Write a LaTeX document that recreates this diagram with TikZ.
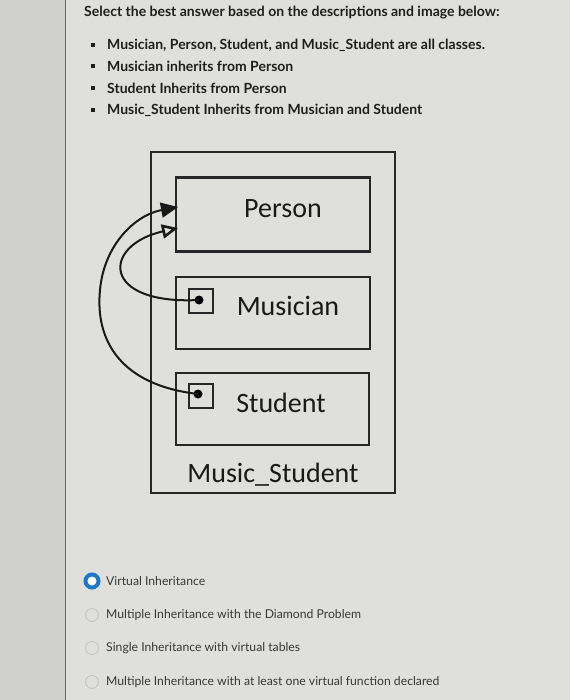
\documentclass[tikz,border=0pt]{standalone}
\usepackage{fontspec}
\setmainfont{Lato}
\newfontfamily\diagfont{Carlito}
\usetikzlibrary{arrows.meta,calc}
\definecolor{pagebg}{HTML}{DFDFDC}
\definecolor{stripbg}{HTML}{CFCFCB}
\definecolor{txt}{HTML}{1E1E1E}
\definecolor{opttxt}{HTML}{383838}
\definecolor{radioblue}{HTML}{1E78C8}
\definecolor{radiogray}{HTML}{C4C4C2}
\tikzset{
  box/.style={draw=black!85, line width=2.1pt, minimum width=194pt, minimum height=74pt, inner sep=0pt},
  sq/.style={draw=black!85, line width=2pt, minimum size=24pt, inner sep=0pt},
  dlabel/.style={font=\diagfont\fontsize{28}{30}\selectfont, text=black!90, inner sep=0pt},
  head/.style={font=\bfseries\fontsize{14}{16}\selectfont, text=txt, anchor=west, inner sep=0pt},
  bul/.style={font=\bfseries\fontsize{14}{16}\selectfont, text=txt, anchor=west, inner sep=0pt},
  opt/.style={font=\fontsize{12.2}{14}\selectfont, text=opttxt, anchor=west, inner sep=0pt},
  bulletsq/.style={fill=txt, minimum size=4pt, inner sep=0pt},
  link/.style={draw=black!90, line width=2pt, -{Triangle[open, length=16pt, width=14pt, line width=2.6pt]}},
  linkf/.style={draw=black!90, line width=2pt, -{Triangle[length=17pt, width=15pt]}},
  dot/.style={circle, fill=black, minimum size=9pt, inner sep=0pt},
  radiooff/.style={circle, draw=radiogray, line width=0.9pt, minimum size=13pt, inner sep=0pt},
  radioon/.style={circle, draw=radioblue, fill=white, line width=4pt, minimum size=13pt, inner sep=0pt}
}
\begin{document}
\begin{tikzpicture}[x=1pt, y=-1pt]
\useasboundingbox (0,0) rectangle (570,700);
\fill[pagebg] (0,0) rectangle (570,700);
\fill[stripbg] (0,0) rectangle (65,700);
\draw[gray!80!black, line width=0.8pt] (65,0) -- (65,700);

% heading and bullets
\node[head] (h) at (84,13) {Select the best answer based on the descriptions and image below:};
\node[bulletsq] (b1) at (93,45) {};
\node[bul] (t1) at (107,45) {Musician, Person, Student, and Music\_Student are all classes.};
\node[bulletsq] (b2) at (93,66) {};
\node[bul] (t2) at (107,66) {Musician inherits from Person};
\node[bulletsq] (b3) at (93,88) {};
\node[bul] (t3) at (107,88) {Student Inherits from Person};
\node[bulletsq] (b4) at (93,110) {};
\node[bul] (t4) at (107,110) {Music\_Student Inherits from Musician and Student};

% diagram
\node[draw=black!85, line width=2.1pt, minimum width=244pt, minimum height=341pt, inner sep=0pt] (outer) at (273,322.5) {};
\node[box] (person) at (273,214.5) {};
\node[box, minimum height=72pt] (musician) at (273,313) {};
\node[box, minimum height=72pt, minimum width=193pt] (student) at (272.5,409) {};
\node[dlabel] (lperson) at (283,209) {Person};
\node[dlabel] (lmusician) at (288,306) {Musician};
\node[dlabel] (lstudent) at (281,403) {Student};
\node[dlabel] (lms) at (273,475) {Music\_Student};
\node[sq] (msq) at (200.5,300.5) {};
\node[sq] (ssq) at (200.5,396) {};
\node[dot] (mdot) at (199,300) {};
\node[dot] (sdot) at (198,394) {};
\coordinate (ptip1) at (178,207);
\coordinate (ptip2) at (178,228);
\draw[link] (mdot.center) .. controls (100,305) and (102,245) .. (ptip2);
\draw[linkf] (sdot.center) .. controls (120,385) and (95,340) .. (100,290) .. controls (104,245) and (135,215) .. (ptip1);

% options
\node[radioon] (r1) at (92,581) {};
\node[opt] (o1) at (106,581) {Virtual Inheritance};
\node[radiooff] (r2) at (92,615) {};
\node[opt] (o2) at (106,615) {Multiple Inheritance with the Diamond Problem};
\node[radiooff] (r3) at (92,648) {};
\node[opt] (o3) at (106,648) {Single Inheritance with virtual tables};
\node[radiooff] (r4) at (92,682) {};
\node[opt] (o4) at (106,682) {Multiple Inheritance with at least one virtual function declared};
\end{tikzpicture}
\end{document}
